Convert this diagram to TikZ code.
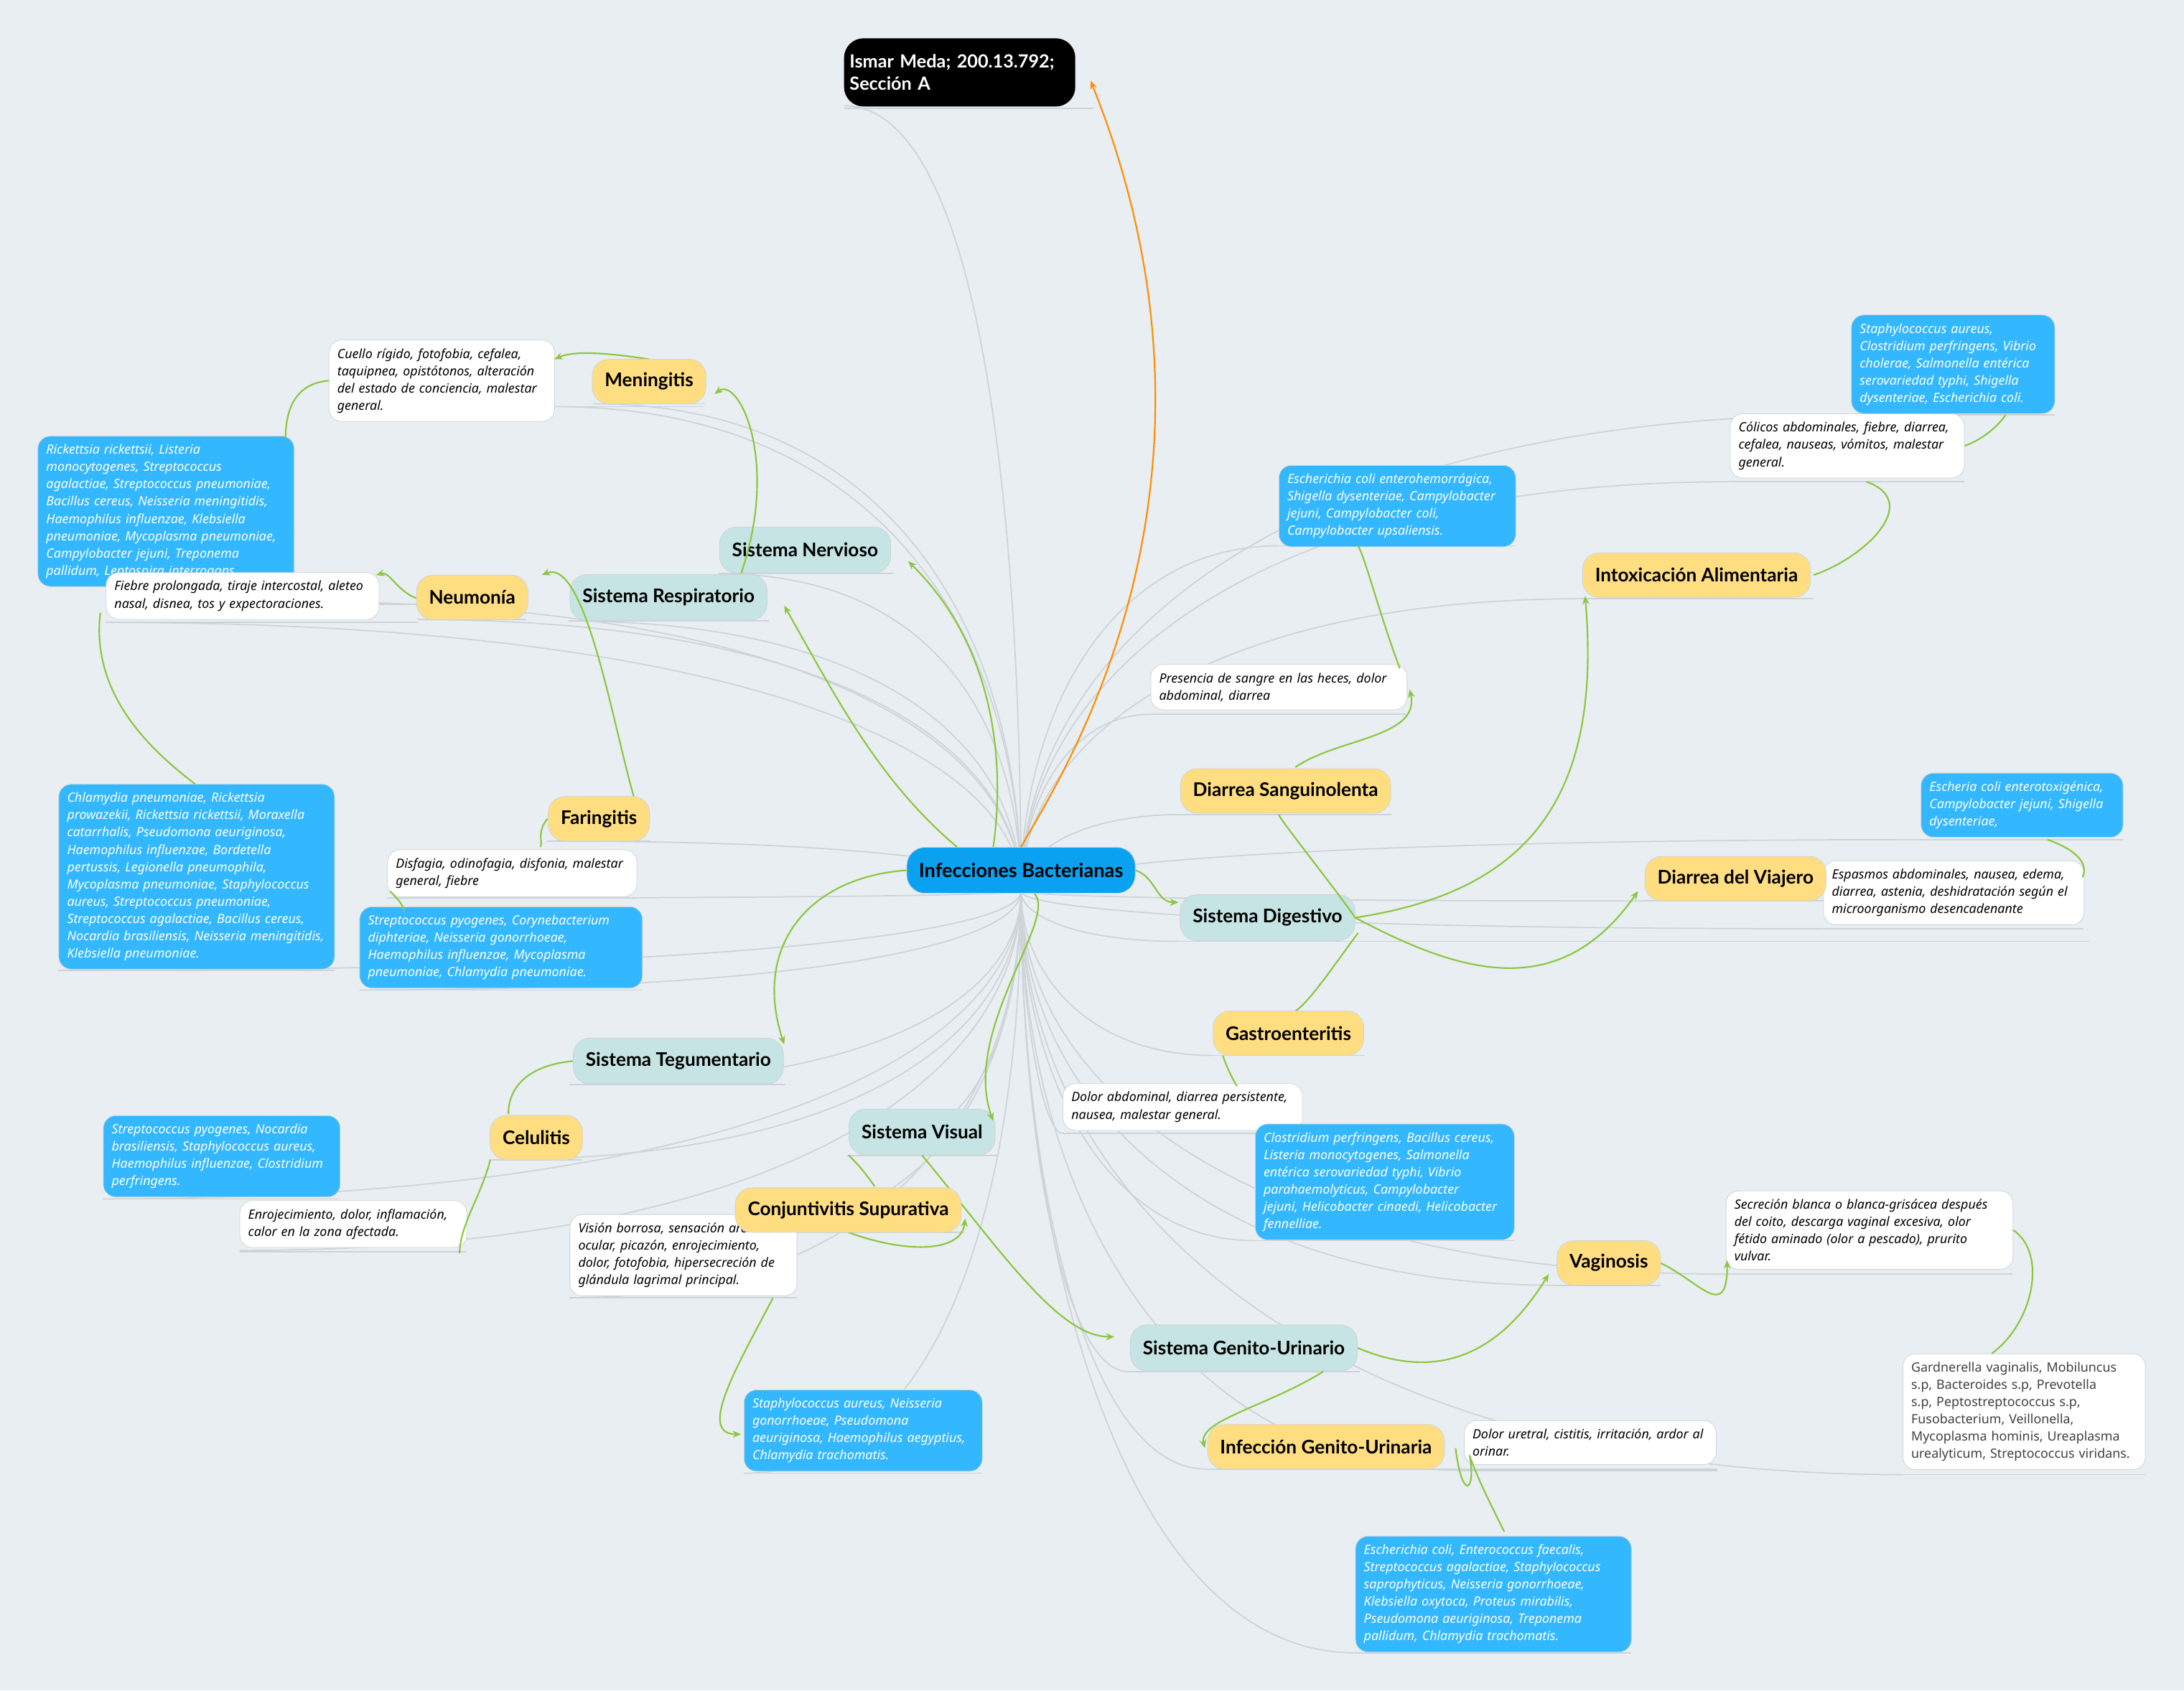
\documentclass[tikz,border=0pt]{standalone}
\usepackage{fontspec}
\setmainfont{Noto Sans}
\newfontfamily\labfont{Lato}
\hyphenpenalty=10000
\exhyphenpenalty=10000
\usetikzlibrary{arrows.meta}
\definecolor{bg}{HTML}{E8EEF1}
\definecolor{yel}{HTML}{FFDE82}
\definecolor{teal}{HTML}{C5E4E3}
\definecolor{bl}{HTML}{33B7FF}
\definecolor{cen}{HTML}{0AA2F0}
\definecolor{grn}{HTML}{8CC63F}
\definecolor{gl}{HTML}{CDD3D6}
\tikzset{
 yelnode/.style={fill=yel,draw=gl,rounded corners=12pt,font=\labfont\bfseries\fontsize{13.5}{15}\selectfont,minimum height=32pt,inner xsep=9pt},
 sysnode/.style={fill=teal,draw=gl,rounded corners=12pt,font=\labfont\bfseries\fontsize{13.5}{15}\selectfont,minimum height=33pt,inner xsep=9pt},
 wbox/.style={fill=white,draw=gl,rounded corners=9pt,font=\itshape\fontsize{9.2}{12.4}\selectfont,align=left,anchor=north west,inner sep=6pt},
 bbox/.style={fill=bl,draw=gl,rounded corners=9pt,text=white,font=\itshape\fontsize{9.2}{12.4}\selectfont,align=left,anchor=north west,inner sep=6pt},
 gline/.style={draw=gl,line width=0.9pt},
 garr/.style={draw=grn,line width=1.1pt,-{Stealth[length=6pt,width=5pt]}},
 gln/.style={draw=grn,line width=1.1pt},
}
\begin{document}
\begin{tikzpicture}[x=1pt,y=-1pt]
\fill[bg] (0,0) rectangle (1568,1214);
\useasboundingbox (0,0) rectangle (1568,1214);
\coordinate (c) at (733,640);
% gray fan lines
\foreach \p/\q in {606/76, 398/292, 211/432, 76/447, 42/697, 258/711, 278/645, 409/779, 351/833, 74/861, 172/898, 409/932, 534/1058, 608/830, 526/885, 516/412, 408/446, 426/290, 300/445, 393/604, 846/676, 848/585, 826/513, 918/392, 1135/430, 1242/346, 1329/298, 1181/647, 1309/667, 1379/603, 871/758, 763/814, 901/891, 810/985, 1117/923, 1239/915, 1366/1059, 866/1055, 1051/1056, 973/1187}{
 \draw[gline] (c) .. controls (733,\q*0.5+320) and (\p*0.3+520,\q) .. (\p,\q);
}
\foreach \a/\b/\y in {606/785/78, 398/505/292, 211/300/434, 76/300/447, 42/240/697, 258/461/711, 278/457/645, 409/564/779, 351/418/833, 74/244/861, 172/335/899, 409/572/932, 534/705/1058, 608/716/830, 526/692/885, 516/641/412, 408/552/446, 426/506/290, 300/378/445, 393/467/604, 846/1500/676, 848/999/585, 826/1010/513, 918/1088/392, 1135/1302/430, 1242/1410/346, 1329/1475/298, 1181/1312/647, 1309/1496/667, 1379/1524/603, 871/980/758, 763/935/814, 901/1087/891, 810/976/985, 1117/1192/923, 1239/1445/915, 1366/1540/1059, 866/1233/1055, 1051/1233/1056, 973/1171/1187}{
 \draw[gline] (\a,\y) -- (\b,\y);
}
% nodes
\node[fill=black,text=white,rounded corners=14pt,font=\labfont\bfseries\fontsize{13}{16}\selectfont,align=left,minimum width=166pt,minimum height=49pt,text width=158pt,inner xsep=4pt] (title) at (689,52) {Ismar Meda; 200.13.792;\\Sección A};
\node[fill=cen,draw=gl,rounded corners=13pt,font=\labfont\bfseries\fontsize{14}{15}\selectfont,minimum width=164pt,minimum height=33pt] (cen) at (733,625) {Infecciones Bacterianas};
\node[sysnode] (ner) at (578,395) {Sistema Nervioso};
\node[sysnode] (res) at (480,429) {Sistema Respiratorio};
\node[sysnode] (teg) at (487,762) {Sistema Tegumentario};
\node[sysnode] (vis) at (662,813) {Sistema Visual};
\node[sysnode] (dig) at (910,659) {Sistema Digestivo};
\node[sysnode] (gen) at (893,968) {Sistema Genito-Urinario};

\node[wbox,text width=150pt] (menw) at (236,244) {Cuello rígido, fotofobia, cefalea, taquipnea, opistótonos, alteración del estado de conciencia, malestar general.};
\node[bbox,text width=172pt] (menb) at (27,313) {Rickettsia rickettsii, Listeria monocytogenes, Streptococcus agalactiae, Streptococcus pneumoniae, Bacillus cereus, Neisseria meningitidis, Haemophilus influenzae, Klebsiella pneumoniae, Mycoplasma pneumoniae, Campylobacter jejuni, Treponema pallidum, Leptospira interrogans};
\node[wbox,text width=184pt] (neuw) at (76,411) {Fiebre prolongada, tiraje intercostal, aleteo nasal, disnea, tos y expectoraciones.};
\node[bbox,text width=186pt] (neub) at (42,563) {Chlamydia pneumoniae, Rickettsia prowazekii, Rickettsia rickettsii, Moraxella catarrhalis, Pseudomona aeuriginosa, Haemophilus influenzae, Bordetella pertussis, Legionella pneumophila, Mycoplasma pneumoniae, Staphylococcus aureus, Streptococcus pneumoniae, Streptococcus agalactiae, Bacillus cereus, Nocardia brasiliensis, Neisseria meningitidis, Klebsiella pneumoniae.};
\node[wbox,text width=167pt] (farw) at (278,610) {Disfagia, odinofagia, disfonia, malestar general, fiebre};
\node[bbox,text width=191pt] (farb) at (258,651) {Streptococcus pyogenes, Corynebacterium diphteriae, Neisseria gonorrhoeae, Haemophilus influenzae, Mycoplasma pneumoniae, Chlamydia pneumoniae.};
\node[bbox,text width=158pt] (celb) at (74,801) {Streptococcus pyogenes, Nocardia brasiliensis, Staphylococcus aureus, Haemophilus influenzae, Clostridium perfringens.};
\node[wbox,text width=151pt] (celw) at (172,862) {Enrojecimiento, dolor, inflamación, calor en la zona afectada.};
\node[wbox,text width=151pt] (conw) at (409,872) {Visión borrosa, sensación arenosa ocular, picazón, enrojecimiento, dolor, fotofobia, hipersecreción de glándula lagrimal principal.};
\node[bbox,text width=159pt] (conb) at (534,998) {Staphylococcus aureus, Neisseria gonorrhoeae, Pseudomona aeuriginosa, Haemophilus aegyptius, Chlamydia trachomatis.};

\node[wbox,text width=172pt] (dsw) at (826,477) {Presencia de sangre en las heces, dolor abdominal, diarrea};
\node[bbox,text width=158pt] (dsb) at (918,334) {Escherichia coli enterohemorrágica, Shigella dysenteriae, Campylobacter jejuni, Campylobacter coli, Campylobacter upsaliensis.};
\node[wbox,text width=156pt] (iaw) at (1242,297) {Cólicos abdominales, fiebre, diarrea, cefalea, nauseas, vómitos, malestar general.};
\node[bbox,text width=134pt] (iab) at (1329,226) {Staphylococcus aureus, Clostridium perfringens, Vibrio cholerae, Salmonella entérica serovariedad typhi, Shigella dysenteriae, Escherichia coli.};
\node[wbox,text width=175pt] (dvw) at (1309,618) {Espasmos abdominales, nausea, edema, diarrea, astenia, deshidratación según el microorganismo desencadenante};
\node[bbox,text width=133pt] (dvb) at (1379,555) {Escheria coli enterotoxigénica, Campylobacter jejuni, Shigella dysenteriae,};
\node[wbox,text width=160pt] (gew) at (763,778) {Dolor abdominal, diarrea persistente, nausea, malestar general.};
\node[bbox,text width=174pt] (geb) at (901,807) {Clostridium perfringens, Bacillus cereus, Listeria monocytogenes, Salmonella entérica serovariedad typhi, Vibrio parahaemolyticus, Campylobacter jejuni, Helicobacter cinaedi, Helicobacter fennelliae.};
\node[wbox,text width=194pt] (vagw) at (1239,855) {Secreción blanca o blanca-grisácea después del coito, descarga vaginal excesiva, olor fétido aminado (olor a pescado), prurito vulvar.};
\node[wbox,text width=162pt,font=\fontsize{9.2}{12.4}\selectfont,text=black!75] (vagg) at (1366,972) {Gardnerella vaginalis, Mobiluncus s.p, Bacteroides s.p, Prevotella s.p, Peptostreptococcus s.p, Fusobacterium, Veillonella, Mycoplasma hominis, Ureaplasma urealyticum, Streptococcus viridans.};
\node[wbox,text width=169pt] (iguw) at (1051,1020) {Dolor uretral, cistitis, irritación, ardor al orinar.};
\node[bbox,text width=186pt] (igub) at (973,1103) {Escherichia coli, Enterococcus faecalis, Streptococcus agalactiae, Staphylococcus saprophyticus, Neisseria gonorrhoeae, Klebsiella oxytoca, Proteus mirabilis, Pseudomona aeuriginosa, Treponema pallidum, Chlamydia trachomatis.};

% orange
\draw[draw=orange!90!yellow,line width=1.1pt,-{Stealth[length=6pt,width=5pt]}] (cen.north) .. controls (760,560) and (900,350) .. (783,58);
% green connectors
\draw[garr] (cen.140) .. controls (720,560) and (720,470) .. (652,403);
\draw[garr] (cen.160) .. controls (630,560) and (600,500) .. (563,435);
\draw[garr] (cen.west) .. controls (580,630) and (540,680) .. (563,750);
\draw[garr] (cen.east) .. controls (830,630) and (830,648) .. (846,648);
\draw[garr] (cen.300) .. controls (760,660) and (690,740) .. (713,805);
\draw[garr] (vis.south) .. controls (720,900) and (760,960) .. (800,960);
\draw[garr] (ner.200) .. controls (560,330) and (530,270) .. (513,283);
\draw[garr] (466,258) .. controls (415,250) and (405,255) .. (398,258);
\draw[gln] (menw.west) .. controls (215,275) and (205,290) .. (205,315);
\draw[garr] (455,572) .. controls (440,520) and (420,400) .. (389,413);
\draw[garr] (300,430) .. controls (285,425) and (280,410) .. (270,413);
\draw[gln] (72,440) .. controls (65,500) and (110,540) .. (140,563);
\draw[gln] (393,588) .. controls (385,598) and (390,605) .. (388,608);
\draw[gln] (280,640) .. controls (285,645) and (290,650) .. (290,655);
\draw[gln] (teg.west) .. controls (380,765) and (365,780) .. (365,800);
\draw[gln] (352,833) .. controls (345,860) and (330,880) .. (330,900);
\draw[gln] (vis.south west) .. controls (620,840) and (625,848) .. (628,852);
\draw[garr] (609,885) .. controls (650,900) and (690,900) .. (693,875);
\draw[garr] (555,932) .. controls (530,980) and (500,1030) .. (532,1030);
\draw[gln] (dig.east) .. controls (960,640) and (920,590) .. (918,585);
\draw[garr] (dig.east) .. controls (1100,640) and (1150,570) .. (1138,428);
\draw[garr] (dig.east) .. controls (1050,700) and (1120,720) .. (1176,640);
\draw[garr] (930,551) .. controls (960,530) and (1020,530) .. (1012,495);
\draw[gln] (1005,480) .. controls (990,440) and (980,400) .. (975,392);
\draw[gln] (1302,413) .. controls (1340,400) and (1380,360) .. (1340,346);
\draw[gln] (iaw.east) .. controls (1425,315) and (1435,305) .. (1440,298);
\draw[gln] (1470,603) .. controls (1490,610) and (1500,620) .. (1495,630);
\draw[gln] (975,670) .. controls (960,690) and (940,720) .. (930,726);
\draw[gln] (878,758) .. controls (880,765) and (885,775) .. (888,780);
\draw[garr] (gen.east) .. controls (1050,1000) and (1090,950) .. (1112,915);
\draw[garr] (1192,907) .. controls (1220,920) and (1240,950) .. (1240,905);
\draw[gln] (vagw.east) .. controls (1470,900) and (1460,950) .. (1430,972);
\draw[garr] (950,985) .. controls (910,1010) and (860,1020) .. (865,1040);
\draw[gln] (1045,1040) .. controls (1050,1080) and (1060,1070) .. (1055,1045) .. controls (1060,1060) and (1070,1080) .. (1080,1100);

\node[yelnode] (men) at (466,274) {Meningitis};
\node[yelnode] (neu) at (339,429) {Neumonía};
\node[yelnode] (far) at (430,588) {Faringitis};
\node[yelnode] (cel) at (385,817) {Celulitis};
\node[yelnode] (con) at (609,869) {Conjuntivitis Supurativa};
\node[yelnode] (ds) at (923,568) {Diarrea Sanguinolenta};
\node[yelnode] (ia) at (1218,413) {Intoxicación Alimentaria};
\node[yelnode] (dv) at (1246,631) {Diarrea del Viajero};
\node[yelnode] (ge) at (925,742) {Gastroenteritis};
\node[yelnode] (vag) at (1155,907) {Vaginosis};
\node[yelnode] (igu) at (952,1039) {Infección Genito-Urinaria};
\end{tikzpicture}
\end{document}
